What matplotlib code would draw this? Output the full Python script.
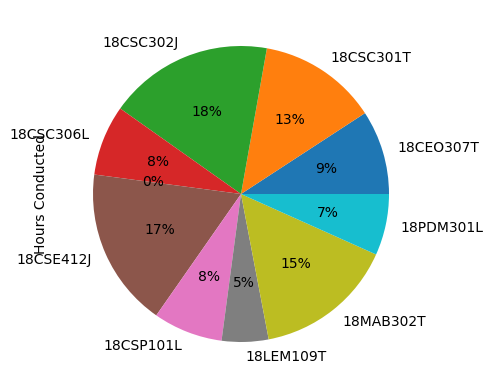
import matplotlib
matplotlib.use("Agg")
import matplotlib.pyplot as plt

subjects = ["18CEO307T", "18CSC301T", "18CSC302J", "18CSC306L", "", "18CSE412J",
            "18CSP101L", "18LEM109T", "18MAB302T", "18PDM301L"]
hours = [9.2, 13.0, 18.0, 7.7, 0.0, 17.4, 7.6, 5.1, 15.3, 6.7]

fig = plt.figure(figsize=(4.93, 3.89), dpi=100)
ax = fig.add_axes([56/493, 10/389, 370/493, 370/389])
colors = plt.rcParams['axes.prop_cycle'].by_key()['color']
ax.pie(hours, labels=subjects, autopct='%.0f%%', colors=colors[:len(hours)])
ax.set_ylabel("Hours Conducted", labelpad=5.5)
fig.savefig("out.png", dpi=100)
